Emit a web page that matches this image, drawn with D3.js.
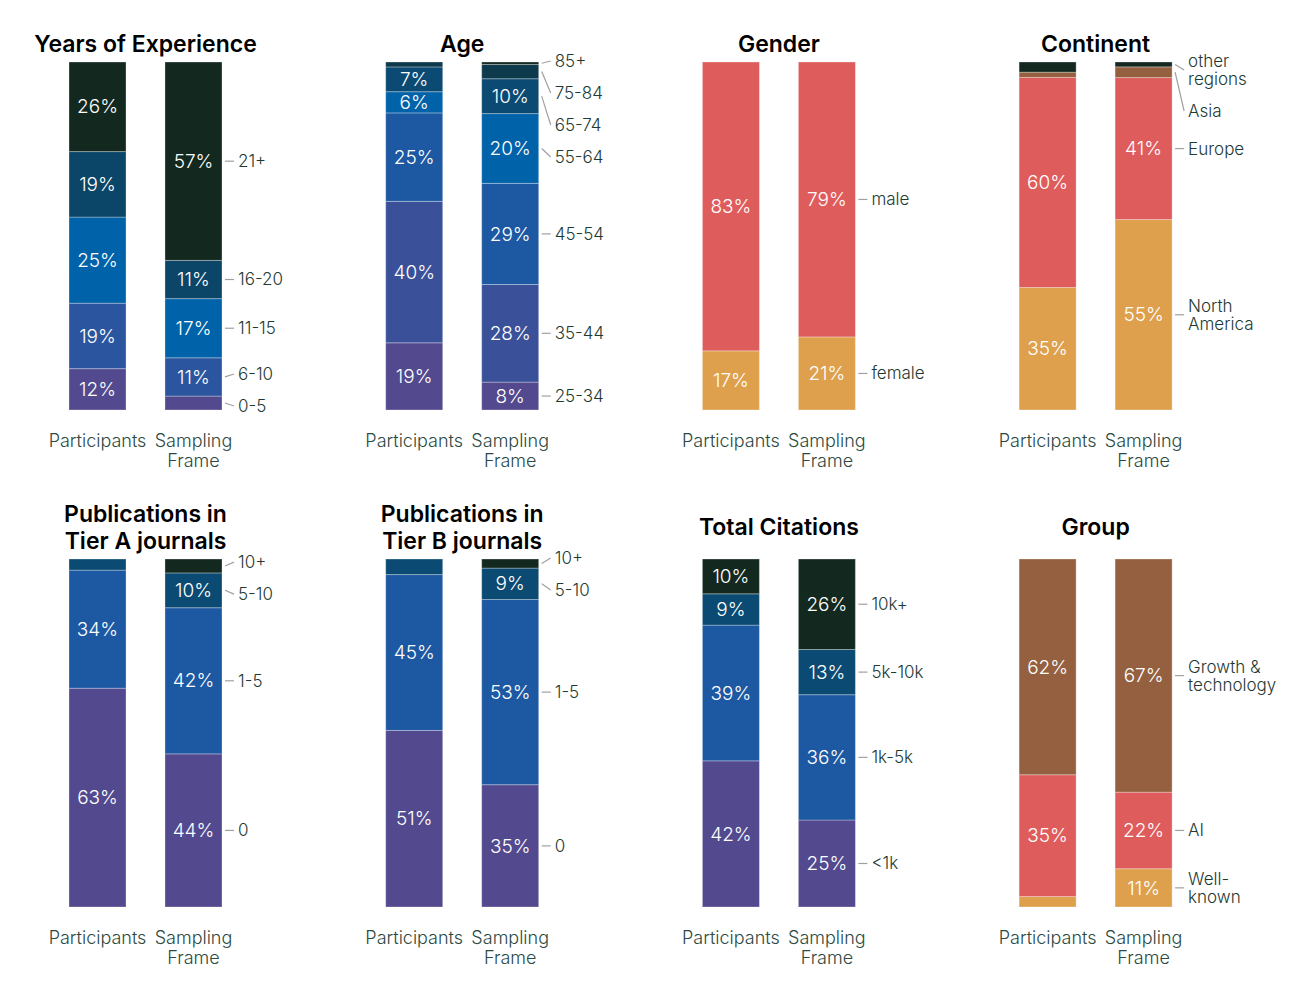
<!DOCTYPE html>
<html>
<head>
<meta charset="utf-8">
<script src="https://cdn.jsdelivr.net/npm/d3@7"></script>
<style>
body { margin: 0; background: #fff; font-family: Inter, "Noto Sans", sans-serif; }
</style>
</head>
<body>
<div id="chart"></div>
<script>
// every category list runs bottom -> top of the bar
var yearsCats = ["0-5", "6-10", "11-15", "16-20", "21+"]
var yearsParticipants = [12, 19, 25, 19, 26]
var yearsSampling = [4, 11, 17, 11, 57]

var ageCats = ["25-34", "35-44", "45-54", "55-64", "65-74", "75-84", "85+"]
var ageParticipants = [19, 40, 25, 6, 7, 1.4, 0]
var ageSampling = [8, 28, 29, 20, 10, 4.1, 0.7]

var genderCats = ["female", "male"]
var genderParticipants = [17, 83]
var genderSampling = [21, 79]

var continentCats = ["North\nAmerica", "Europe", "Asia", "other\nregions"]
var continentParticipants = [35, 60, 1.5, 2.9]
var continentSampling = [55, 41, 3.1, 1.4]

var tierACats = ["0", "1-5", "5-10", "10+"]
var tierAParticipants = [63, 34, 3.2, 0]
var tierASampling = [44, 42, 10, 4]

var tierBCats = ["0", "1-5", "5-10", "10+"]
var tierBParticipants = [51, 45, 4.5, 0]
var tierBSampling = [35, 53, 9, 2.6]

var citationCats = ["<1k", "1k-5k", "5k-10k", "10k+"]
var citationParticipants = [42, 39, 9, 10]
var citationSampling = [25, 36, 13, 26]

var groupCats = ["Well-\nknown", "AI", "Growth &\ntechnology"]
var groupParticipants = [3, 35, 62]
var groupSampling = [11, 22, 67]

var titles = [
	["Years of Experience"], ["Age"], ["Gender"], ["Continent"],
	["Publications in", "Tier A journals"], ["Publications in", "Tier B journals"],
	["Total Citations"], ["Group"]
]
var barNames = ["Participants", "Sampling Frame"]

var panelCats = [yearsCats, ageCats, genderCats, continentCats, tierACats, tierBCats, citationCats, groupCats]
var panelParticipants = [yearsParticipants, ageParticipants, genderParticipants, continentParticipants,
	tierAParticipants, tierBParticipants, citationParticipants, groupParticipants]
var panelSampling = [yearsSampling, ageSampling, genderSampling, continentSampling,
	tierASampling, tierBSampling, citationSampling, groupSampling]

// colours
var purple = "#52498e", indigo = "#3a519a", blue = "#1d58a2", bright = "#0062a9"
var teal = "#0b4a72", deep = "#0d3a4c", darkest = "#13291f"
var orange = "#dea04c", red = "#df5c5c", brown = "#95603f"
var panelColors = [
	[purple, "#2b569f", bright, "#0b4567", darkest],
	[purple, indigo, blue, bright, teal, deep, darkest],
	[orange, red],
	[orange, red, brown, darkest],
	[purple, blue, teal, darkest],
	[purple, blue, teal, darkest],
	[purple, blue, teal, darkest],
	[orange, red, brown]
]

var width = 1300, height = 1000
var colStep = 316.7, left = 69, groupW = 153
var rowTop = [62, 559], barH = 348
var titleY = [44, 527]
var lineH = 18, labelGap = 14

var svg = d3.select("#chart")
	.append("svg")
	.attr("width", width)
	.attr("height", height)

panelCats.forEach(function(cats, p) {
	var col = p % 4, row = Math.floor(p / 4)
	var x0 = left + col * colStep
	var top = rowTop[row]
	var g = svg.append("g")

	var x = d3.scaleBand()
		.domain(barNames)
		.range([x0, x0 + groupW])
		.paddingInner(0.406)
	var y = d3.scaleLinear()
		.domain([0, 100])
		.range([top + barH, top])

	// one row per bar, shares of its own total
	var rows = barNames.map(function(b, i) {
		var vals = i == 0 ? panelParticipants[p] : panelSampling[p]
		var tot = d3.sum(vals)
		var r = {bar: b, raw: vals}
		cats.forEach(function(c, k) { r[c] = vals[k] / tot * 100 })
		return r
	})
	var series = d3.stack().keys(cats)(rows)

	var layer = g.selectAll("g.layer")
		.data(series)
		.join("g")
		.attr("fill", function(d, k) { return panelColors[p][k] })

	layer.selectAll("rect")
		.data(function(d) { return d.filter(function(s) { return s[1] - s[0] > 0 }) })
		.join("rect")
		.attr("x", function(s) { return x(s.data.bar) })
		.attr("width", x.bandwidth())
		.attr("y", function(s) { return y(s[1]) })
		.attr("height", function(s) { return y(s[0]) - y(s[1]) })
		.attr("stroke", "rgba(255,255,255,0.3)")
		.attr("stroke-width", 1)

	// percentages inside bars
	series.forEach(function(ser, k) {
		ser.forEach(function(s, i) {
			var raw = s.data.raw[k]
			if (raw < 5) return
			g.append("text")
				.attr("x", x(s.data.bar) + x.bandwidth() / 2)
				.attr("y", y((s[0] + s[1]) / 2))
				.attr("dy", "0.35em")
				.attr("text-anchor", "middle")
				.attr("fill", "#fff")
				.attr("font-size", 19)
				.attr("font-weight", 300)
				.text(Math.round(raw) + "%")
		})
	})

	// category labels next to the sampling bar, relaxed so they don't overlap
	var labels = []
	series.forEach(function(ser, k) {
		var s = ser[1]
		if (s[1] - s[0] <= 0) return
		var c = y((s[0] + s[1]) / 2)
		labels.push({text: cats[k], anchor: c, y: c, h: cats[k].split("\n").length * lineH})
	})
	labels.sort(function(a, b) { return a.anchor - b.anchor })
	for (var it = 0; it < 300; it++) {
		for (var i = 0; i < labels.length - 1; i++) {
			var a = labels[i], b = labels[i + 1]
			var need = a.h / 2 + b.h / 2 + labelGap
			var d = b.y - a.y
			if (d < need) {
				a.y -= (need - d) / 2
				b.y += (need - d) / 2
			}
		}
		labels.forEach(function(l) {
			if (l.y - l.h / 2 < top - 10) l.y = top - 10 + l.h / 2
			if (l.y + l.h / 2 > top + barH + 12) l.y = top + barH + 12 - l.h / 2
		})
	}
	var barRight = x("Sampling Frame") + x.bandwidth()
	labels.forEach(function(l) {
		g.append("line")
			.attr("x1", barRight + 3)
			.attr("y1", l.anchor)
			.attr("x2", barRight + 12)
			.attr("y2", l.y)
			.attr("stroke", "#a0a0a0")
			.attr("stroke-width", 1.2)
		var lines = l.text.split("\n")
		var t = g.append("text")
			.attr("x", barRight + 16)
			.attr("y", l.y - (lines.length - 1) * lineH / 2)
			.attr("fill", "#1d3a33")
			.attr("font-size", 17)
			.attr("font-weight", 300)
		lines.forEach(function(ln, j) {
			t.append("tspan")
				.attr("x", barRight + 16)
				.attr("dy", j == 0 ? "0.35em" : lineH)
				.text(ln)
		})
	})

	// bar names
	var axis = g.append("g")
		.attr("transform", `translate(0,${top + barH + 21})`)
		.call(d3.axisBottom(x).tickSize(0))
	axis.select(".domain").remove()
	axis.selectAll("text")
		.attr("fill", "#2c4a42")
		.attr("font-size", 18)
		.attr("font-weight", 300)
		.attr("font-family", "Inter, sans-serif")
		.each(function(d) {
			var t = d3.select(this)
			var words = d == "Sampling Frame" ? ["Sampling", "Frame"] : [d]
			t.text(null)
			words.forEach(function(w, j) {
				t.append("tspan")
					.attr("x", 0)
					.attr("dy", j == 0 ? "0.71em" : "1.1em")
					.text(w)
			})
		})

	// title
	var tl = titles[p]
	var title = g.append("text")
		.attr("x", x0 + groupW / 2)
		.attr("y", titleY[row] - (tl.length - 1) * 27 / 2)
		.attr("text-anchor", "middle")
		.attr("fill", "#000")
		.attr("font-size", 23)
		.attr("font-weight", 600)
	tl.forEach(function(ln, j) {
		title.append("tspan")
			.attr("x", x0 + groupW / 2)
			.attr("dy", j == 0 ? "0.35em" : 27)
			.text(ln)
	})
})
</script>
</body>
</html>
